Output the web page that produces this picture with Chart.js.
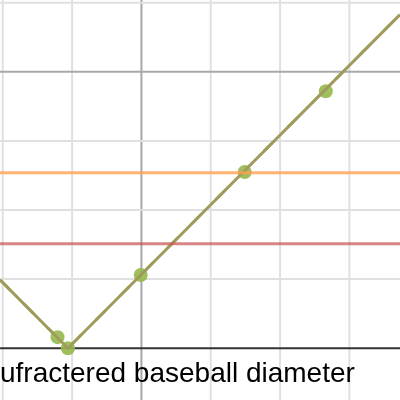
<!DOCTYPE html>
<html>
<head>
<meta charset="utf-8">
<script src="https://cdn.jsdelivr.net/npm/chart.js@4"></script>
<style>
  html, body { margin: 0; padding: 0; background: #fff; }
  #wrap { width: 400px; height: 400px; }
</style>
</head>
<body>
<div id="wrap"><canvas id="c"></canvas></div>
<script>
// data
const curveX = [-0.04, 0.94, 5.73];
const curveY = [0.99, 0.0, 4.83];
const pointX = [0.79, 0.94, 1.99, 3.49, 4.66];
const pointY = [0.16, 0.0, 1.06, 2.55, 3.72];
const orangeLevel = 2.54;
const redLevel = 1.51;
const gridX = [0, 1, 2, 3, 4, 5];
const gridY = [0, 1, 2, 3, 4, 5];
const xMin = -0.04, xMax = 5.73, yMin = -0.75, yMax = 5.04;
const axisLabel = 'ufractered baseball diameter';

function xy(xs, ys) { return xs.map((x, i) => ({ x: x, y: ys[i] })); }

// grid + label drawn through the chart's scales
const gridPlugin = {
    id: 'grid',
    beforeDatasetsDraw(chart) {
        const ctx = chart.ctx, sx = chart.scales.x, sy = chart.scales.y;
        ctx.save();
        gridX.forEach(v => {
            const p = sx.getPixelForValue(v);
            ctx.strokeStyle = v === 2 ? '#a8a8a8' : '#e0e0e0';
            ctx.lineWidth = 2;
            ctx.beginPath(); ctx.moveTo(p, 0); ctx.lineTo(p, 400); ctx.stroke();
        });
        gridY.forEach(v => {
            const p = sy.getPixelForValue(v);
            ctx.strokeStyle = v === 0 ? '#333' : (v === 4 ? '#a8a8a8' : '#e0e0e0');
            ctx.lineWidth = 2;
            ctx.beginPath(); ctx.moveTo(0, p); ctx.lineTo(400, p); ctx.stroke();
        });
        ctx.restore();
    },
    afterDraw(chart) {
        const ctx = chart.ctx;
        ctx.save();
        ctx.fillStyle = '#000';
        ctx.font = '28px "Liberation Sans", Arial, sans-serif';
        ctx.textBaseline = 'alphabetic';
        ctx.fillText(axisLabel, 0, 382);
        ctx.restore();
    }
};

new Chart(document.getElementById('c'), {
    type: 'scatter',
    data: {
        datasets: [{
            data: xy([xMin, xMax], [orangeLevel, orangeLevel]),
            showLine: true, borderColor: 'rgba(255,160,80,0.8)', borderWidth: 3, pointRadius: 0
        }, {
            data: xy([xMin, xMax], [redLevel, redLevel]),
            showLine: true, borderColor: 'rgba(200,80,80,0.7)', borderWidth: 3, pointRadius: 0
        }, {
            data: xy(curveX, curveY),
            showLine: true, borderColor: '#a09a5c', borderWidth: 3, pointRadius: 0
        }, {
            data: xy(curveX, curveY),
            showLine: true, borderColor: '#a8cc7a', borderWidth: 3, borderDash: [14, 20], pointRadius: 0
        }, {
            data: xy(pointX, pointY),
            showLine: false, pointRadius: 7, pointBackgroundColor: 'rgba(148,184,74,0.9)', pointBorderWidth: 0
        }]
    },
    options: {
        responsive: true, maintainAspectRatio: false, animation: false,
        layout: { padding: 0, autoPadding: false },
        plugins: { legend: { display: false }, tooltip: { enabled: false } },
        scales: {
            x: { type: 'linear', display: false, min: xMin, max: xMax },
            y: { type: 'linear', display: false, min: yMin, max: yMax }
        }
    },
    plugins: [gridPlugin]
});
</script>
</body>
</html>
